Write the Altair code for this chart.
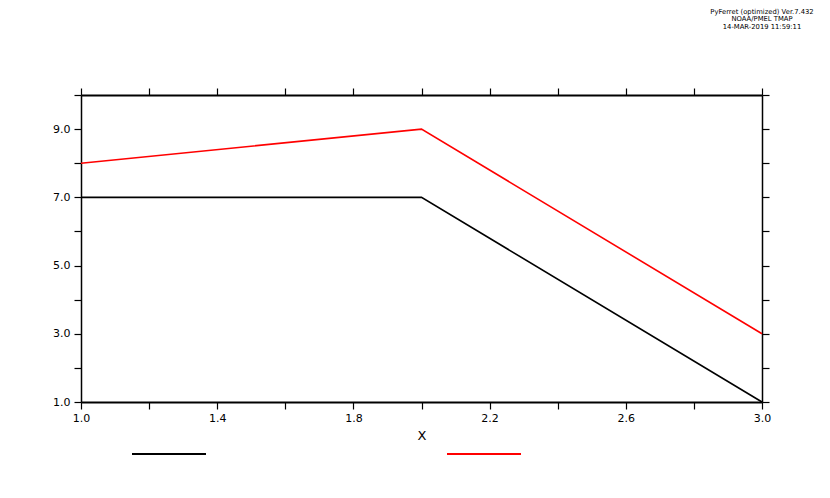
import altair as alt
import pandas as pd

# data
x_vals = [1.0, 2.0, 3.0]
black_vals = [7.0, 7.0, 1.0]
red_vals = [8.0, 9.0, 3.0]
series_names = ["black", "red"]
series_colors = ["#000000", "#ff0000"]

x_ticks = [1.0, 1.2, 1.4, 1.6, 1.8, 2.0, 2.2, 2.4, 2.6, 2.8, 3.0]
y_ticks = [1, 2, 3, 4, 5, 6, 7, 8, 9, 10]
header = ["PyFerret (optimized) Ver.7.432", "NOAA/PMEL TMAP", "14-MAR-2019 11:59:11"]

FONT = "DejaVu Sans"

df = pd.DataFrame({
    "x": x_vals * 2,
    "y": black_vals + red_vals,
    "series": [series_names[0]] * 3 + [series_names[1]] * 3,
})

xs = alt.Scale(domain=[1.0, 3.0], nice=False, zero=False)
ys = alt.Scale(domain=[1, 10], nice=False, zero=False)

x_lab = "round(datum.value*10) % 4 == 2 ? format(datum.value, '.1f') : ''"
y_lab = "datum.value % 2 == 1 ? format(datum.value, '.1f') : ''"

common = dict(grid=False, ticks=True, tickSize=7, tickWidth=1.2, tickColor="black",
              domainColor="black", labelColor="black", labelFont=FONT, labelFontSize=11,
              labelBound=False, labelFlush=False, labelOverlap=False)

lines = alt.Chart(df).mark_line(strokeWidth=1.6).encode(
    x=alt.X("x:Q", scale=xs, axis=alt.Axis(orient="bottom", values=x_ticks, labelExpr=x_lab,
            title="X", titleFont=FONT, titleFontSize=13, titleFontWeight="normal",
            titleColor="black", titlePadding=6, labelPadding=3, domainWidth=2.2, **common)),
    y=alt.Y("y:Q", scale=ys, axis=alt.Axis(orient="left", values=y_ticks, labelExpr=y_lab,
            title=None, labelPadding=4, domainWidth=1.5, **common)),
    color=alt.Color("series:N", scale=alt.Scale(domain=series_names, range=series_colors),
                    legend=alt.Legend(orient="none", legendX=50, legendY=321, direction="horizontal",
                                      title=None, symbolType="stroke", symbolSize=5476,
                                      symbolStrokeWidth=2, labelExpr="''", labelOffset=0,
                                      columnPadding=233, padding=0)),
    order="x:Q",
)

frame = alt.Chart(df).mark_line(opacity=0).encode(
    x=alt.X("x:Q", scale=xs, axis=alt.Axis(orient="top", values=x_ticks, labels=False,
            title=None, domainWidth=2.2, **common)),
    y=alt.Y("y:Q", scale=ys, axis=alt.Axis(orient="right", values=y_ticks, labels=False,
            title=None, domainWidth=1.5, **common)),
    detail="series:N",
)

chart = alt.layer(frame, lines).resolve_axis(x="independent", y="independent").properties(
    width=681, height=307,
    autosize=alt.AutoSizeParams(type="none"),
    padding={"left": 73, "top": 87, "right": 60, "bottom": 80},
    title=alt.TitleParams(header, anchor="end", align="center", frame="group", fontSize=6.8,
                          font=FONT, fontWeight="normal", color="black", lineHeight=7.2,
                          offset=57),
).configure_view(stroke=None)

chart.save("out.html", embed_options={"renderer": "svg", "actions": False})
